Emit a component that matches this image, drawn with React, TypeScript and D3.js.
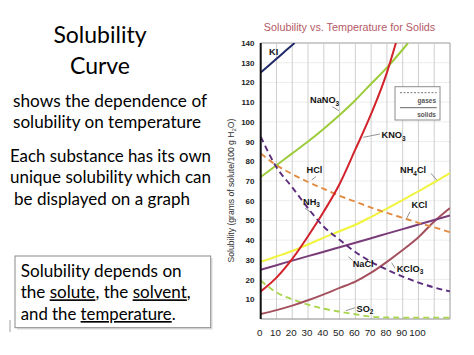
import React from "react";
import * as d3 from "d3";

const temps = [0, 10, 20, 30, 40, 50, 60, 70, 80, 90, 100, 110, 120];
const xTickLabels = [0, 10, 20, 30, 40, 50, 60, 70, 80, 90, 100];
const yTickLabels = [10, 20, 30, 40, 50, 60, 70, 80, 90, 100, 110, 120, 130, 140];

const kiT = [0, 10, 20, 21.5];
const kiV = [125, 132, 139, 140];
const nano3T = [0, 10, 20, 30, 40, 50, 60, 70, 80, 90, 93.4];
const nano3V = [72, 78, 84, 90, 96.5, 103.5, 111, 119.3, 127.5, 136.7, 140];
const kno3T = [0, 10, 20, 30, 40, 50, 60, 70, 80, 85.7];
const kno3V = [14, 21, 30.5, 42, 54.5, 68.5, 86, 104, 125, 140];
const nh4clV = [29, 31.7, 34.5, 37.8, 41.3, 44.5, 47.8, 51.8, 56, 60.3, 64.8, 69.3, 74];
const kclV = [25, 27.3, 29.6, 31.9, 34.1, 36.4, 38.7, 41, 43.3, 45.6, 47.9, 50.2, 52.5];
const kclo3V = [2.5, 4.5, 6.8, 9.5, 12.5, 15.8, 19, 23.5, 29, 35, 41.5, 49.5, 56.3];
const hclV = [84, 78, 73.5, 69.5, 66, 62.5, 59.5, 56.5, 53.8, 51.3, 48.8, 46.5, 44];
const nh3V = [92.5, 77, 66.8, 56.2, 46.8, 40.2, 34, 29, 25, 21.5, 18.5, 16, 14];
const so2V = [19.5, 13.5, 10, 7.3, 5.2, 3.7, 2.4, 1.2, 0.8, 0.7, 0.7, 0.7, 0.7];

type S = { name: string; t: number[]; v: number[]; color: string; dashed: boolean };
const series: S[] = [
  { name: "SO2", t: temps, v: so2V, color: "#a9d64c", dashed: true },
  { name: "KClO3", t: temps, v: kclo3V, color: "#a5505e", dashed: false },
  { name: "KCl", t: temps, v: kclV, color: "#7a3c78", dashed: false },
  { name: "NH4Cl", t: temps, v: nh4clV, color: "#f1f43c", dashed: false },
  { name: "HCl", t: temps, v: hclV, color: "#e28c42", dashed: true },
  { name: "NaNO3", t: nano3T, v: nano3V, color: "#9dcb3a", dashed: false },
  { name: "KNO3", t: kno3T, v: kno3V, color: "#d2222c", dashed: false },
  { name: "NH3", t: temps, v: nh3V, color: "#5b2b7c", dashed: true },
  { name: "KI", t: kiT, v: kiV, color: "#1f2868", dashed: false },
];

const X0 = 260.7, X1 = 450, Y0 = 319, Y1 = 43;

function Chem({ x, y, base, sub, tail, anchor = "start" }: any) {
  return (
    <text x={x} y={y} textAnchor={anchor} fontFamily="Arial, 'Liberation Sans', sans-serif" fontWeight="bold" fontSize={9.2} fill="#141414">
      {base}
      {sub ? <tspan dy={2.5} fontSize={6.5}>{sub}</tspan> : null}
      {tail ? <tspan dy={sub ? -2.5 : 0}>{tail}</tspan> : null}
    </text>
  );
}

export default function App() {
  const x = d3.scaleLinear().domain([0, 120]).range([X0, X1]);
  const y = d3.scaleLinear().domain([0, 140]).range([Y0, Y1]);
  const line = (s: S) =>
    d3
      .line<number>()
      .x((_, i) => x(s.t[i]))
      .y((d) => y(d))
      .curve(d3.curveMonotoneX)(s.v) || "";
  const gridX = d3.range(0, 121, 10);
  const gridY = d3.range(10, 141, 10);
  const slide = "Lato, Calibri, 'Open Sans', sans-serif";
  const arial = "Arial, 'Liberation Sans', sans-serif";
  return (
    <svg width={474} height={355} style={{ position: "absolute", left: 0, top: 0, background: "#fff" }}>
      <rect x={0} y={0} width={474} height={355} fill="#fff" />
      {/* left slide text */}
      <text x={100} y={43} textAnchor="middle" fontFamily={slide} fontSize={23} fill="#000">Solubility</text>
      <text x={100} y={73.5} textAnchor="middle" fontFamily={slide} fontSize={23} fill="#000">Curve</text>
      <g fontFamily={slide} fontSize={16.5} fill="#000">
        <text x={13} y={106.5} textLength={194} lengthAdjust="spacingAndGlyphs">shows the dependence of</text>
        <text x={13} y={128.3} textLength={188} lengthAdjust="spacingAndGlyphs">solubility on temperature</text>
        <text x={10} y={161.7} textLength={201} lengthAdjust="spacingAndGlyphs">Each substance has its own</text>
        <text x={10} y={183.3} textLength={201} lengthAdjust="spacingAndGlyphs">unique solubility which can</text>
        <text x={14} y={205} textLength={176} lengthAdjust="spacingAndGlyphs">be displayed on a graph</text>
      </g>
      <rect x={17} y={258} width={195.7} height={71.7} fill="#c8c8c8" opacity={0.5} />
      <rect x={15} y={256} width={195.7} height={71.7} fill="#fff" stroke="#8a8a8a" strokeWidth={1} />
      <g fontFamily={slide} fontSize={16.5} fill="#000">
        <text x={20.7} y={276.7} textLength={161} lengthAdjust="spacingAndGlyphs">Solubility depends on</text>
        <text x={20.7} y={298.3} textLength={170} lengthAdjust="spacingAndGlyphs">
          the <tspan textDecoration="underline">solute</tspan>, the <tspan textDecoration="underline">solvent</tspan>,
        </text>
        <text x={20.7} y={320} textLength={155} lengthAdjust="spacingAndGlyphs">
          and the <tspan textDecoration="underline">temperature</tspan>.
        </text>
      </g>
      <rect x={9} y={320} width={2} height={12} fill="#cfcfcf" />

      {/* chart title */}
      <text x={349.5} y={31} textAnchor="middle" fontFamily={arial} fontSize={10.8} fill="#b55a66">
        Solubility vs. Temperature for Solids
      </text>

      {/* grid */}
      {gridY.map((v) => (
        <line key={"gy" + v} x1={X0} x2={X1} y1={y(v)} y2={y(v)} stroke={v === 140 ? "#9a9a9a" : "#ececec"} strokeWidth={1} />
      ))}
      {gridX.map((v) => (
        <line key={"gx" + v} x1={x(v)} x2={x(v)} y1={Y1} y2={Y0} stroke={v === 120 ? "#9a9a9a" : "#cfcfcf"} strokeWidth={1} />
      ))}
      <line x1={X0} x2={X1} y1={Y0} y2={Y0} stroke="#8a8a8a" strokeWidth={1} />

      {/* curves */}
      <defs>
        <clipPath id="plotclip">
          <rect x={X0} y={Y1} width={X1 - X0} height={Y0 - Y1} />
        </clipPath>
      </defs>
      <g clipPath="url(#plotclip)">
        {series.map((s) => (
          <path key={s.name} d={line(s)} fill="none" stroke={s.color} strokeWidth={s.dashed ? 1.9 : 2}
            strokeDasharray={s.dashed ? "6,4" : undefined} />
        ))}
      </g>
      <line x1={X0} x2={X0} y1={Y1} y2={Y0} stroke="#111" strokeWidth={2} />

      {/* y ticks */}
      {yTickLabels.map((v) => (
        <text key={"yt" + v} x={254.5} y={y(v) + 3} textAnchor="end" fontFamily={arial} fontWeight="bold" fontSize={8} fill="#222">
          {v}
        </text>
      ))}
      {/* x ticks */}
      {xTickLabels.map((v) => (
        <text key={"xt" + v} x={x(v) - 1} y={335.5} textAnchor="middle" fontFamily={arial} fontSize={9.8} fill="#222">
          {v}
        </text>
      ))}
      {/* y axis title */}
      <text transform="translate(234,190.5) rotate(-90)" textAnchor="middle" fontFamily={arial} fontSize={8.6} fill="#333">
        Solubility (grams of solute/100 g H<tspan dy={2} fontSize={6}>2</tspan><tspan dy={-2}>O)</tspan>
      </text>

      {/* legend */}
      <rect x={395} y={86.7} width={45} height={33.3} fill="#fff" stroke="#8c8c8c" strokeWidth={1} />
      <line x1={400} x2={436.7} y1={92.7} y2={92.7} stroke="#555" strokeWidth={0.8} strokeDasharray="2,1.5" />
      <text x={436} y={102.5} textAnchor="end" fontFamily={arial} fontWeight="bold" fontSize={6.5} fill="#555">gases</text>
      <line x1={400} x2={436.7} y1={107.7} y2={107.7} stroke="#555" strokeWidth={0.9} />
      <text x={436} y={116.7} textAnchor="end" fontFamily={arial} fontWeight="bold" fontSize={6.5} fill="#555">solids</text>

      {/* curve labels + leaders */}
      <g stroke="#777" strokeWidth={0.8}>
        <line x1={332.3} y1={106.7} x2={339} y2={110.7} />
        <line x1={363.3} y1={137.3} x2={380} y2={134} />
        <line x1={311.7} y1={180} x2={316} y2={176.5} />
        <line x1={305} y1={208.3} x2={310} y2={211.7} />
        <line x1={431} y1={173.3} x2={436.7} y2={180} />
        <line x1={410} y1={211.7} x2={406.7} y2={218.3} />
        <line x1={348.3} y1={256.7} x2={352.7} y2={260.5} />
        <line x1={391.7} y1={262.7} x2={395} y2={268.3} />
        <line x1={346} y1={310.7} x2={355} y2={307.7} />
      </g>
      <Chem x={269} y={55} base="KI" />
      <Chem x={310} y={103} base="NaNO" sub="3" />
      <Chem x={381.5} y={138} base="KNO" sub="3" />
      <Chem x={306.5} y={173} base="HCl" />
      <Chem x={303} y={204.5} base="NH" sub="3" />
      <Chem x={400} y={173} base="NH" sub="4" tail="Cl" />
      <Chem x={411.5} y={208} base="KCl" />
      <Chem x={352.7} y={266.5} base="NaCl" />
      <Chem x={396.7} y={271.5} base="KClO" sub="3" />
      <Chem x={356.5} y={311.5} base="SO" sub="2" />
    </svg>
  );
}
